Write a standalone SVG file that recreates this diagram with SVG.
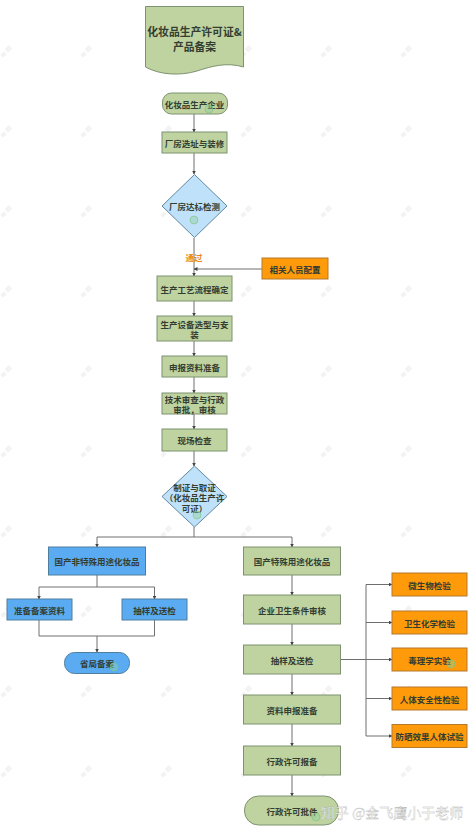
<svg xmlns="http://www.w3.org/2000/svg" width="474" height="832" viewBox="0 0 474 832">
<style>
text{font-family:"Noto Sans CJK SC","Noto Sans",sans-serif;font-weight:700;font-size:8.5px;fill:#333d30;text-anchor:middle;dominant-baseline:central}
.g{fill:#bfd3a0;stroke:#7d9270;stroke-width:1}
.b{fill:#5aabf2;stroke:#4f7f9e;stroke-width:1}
.o{fill:#ff9a0a;stroke:#b5792c;stroke-width:1}
.d{fill:#bfe1fa;stroke:#5f8aa0;stroke-width:1}
.l{fill:none;stroke:#6e6e6e;stroke-width:1}
.t{fill:none;stroke:#707070;stroke-width:1}
.c{fill:#8fd0a0;fill-opacity:.45;stroke:#7cc47c;stroke-opacity:.6;stroke-width:1}
</style>
<defs>
<marker id="a" markerWidth="4" markerHeight="4" refX="3.5" refY="2" orient="auto" markerUnits="userSpaceOnUse"><path d="M0 0L4 2L0 4Z" fill="#444"/></marker>
<pattern id="wm" x="0" y="40" width="80" height="80" patternUnits="userSpaceOnUse">
<g transform="rotate(-45 6 12)" fill="#f3f3f3"><rect x="0" y="10" width="5" height="4"/><rect x="7" y="9" width="6" height="5"/></g>
</pattern>
</defs>
<rect width="474" height="832" fill="#fff"/>
<rect width="474" height="832" fill="url(#wm)"/>
<g id="connectors" class="conn">
<path class="l" d="M194 114V132" marker-end="url(#a)"/>
<path class="l" d="M194 153V174" marker-end="url(#a)"/>
<path class="l" d="M194 238V276" marker-end="url(#a)"/>
<path class="l" d="M262 269H194" marker-end="url(#a)"/>
<path class="l" d="M194 301V316" marker-end="url(#a)"/>
<path class="l" d="M194 341V356" marker-end="url(#a)"/>
<path class="l" d="M194 377V393" marker-end="url(#a)"/>
<path class="l" d="M194 414V429" marker-end="url(#a)"/>
<path class="l" d="M194 451V466" marker-end="url(#a)"/>
<path class="t" d="M194 527V537"/>
<path class="t" d="M194 537H97V547" marker-end="url(#a)"/>
<path class="t" d="M194 537H292V547" marker-end="url(#a)"/>
<path class="t" d="M97 575V587"/>
<path class="t" d="M97 587H39V599" marker-end="url(#a)"/>
<path class="t" d="M97 587H154.500V599" marker-end="url(#a)"/>
<path class="t" d="M39 620V636H154.500V620"/>
<path class="t" d="M97 636V652" marker-end="url(#a)"/>
<path class="l" d="M292 575V595" marker-end="url(#a)"/>
<path class="l" d="M292 624V645" marker-end="url(#a)"/>
<path class="l" d="M292 674V695" marker-end="url(#a)"/>
<path class="l" d="M292 724V746" marker-end="url(#a)"/>
<path class="l" d="M292 775V796" marker-end="url(#a)"/>
<path class="l" d="M341 659.500H392" marker-end="url(#a)"/>
<path class="l" d="M366 584.500H392" marker-end="url(#a)"/>
<path class="l" d="M366 622.500H392" marker-end="url(#a)"/>
<path class="l" d="M366 698.500H392" marker-end="url(#a)"/>
<path class="l" d="M366 736H392" marker-end="url(#a)"/>
<path class="l" d="M366 584.500V736"/>
</g>
<g id="n-title"><path class="g" d="M145.500 6.500H243.500V67C227 62 212 66 197 71C180 76 160 75 145.500 67Z"/><text x="194.500" y="31" style="font-size:10.800px">化妆品生产许可证&amp;</text><text x="194.500" y="45.500" style="font-size:10.800px">产品备案</text></g>
<g id="n-company"><rect class="g" x="162.500" y="93" width="65" height="21" rx="9"/><text x="194.500" y="103.500">化妆品生产企业</text></g>
<g id="n-site"><rect class="g" x="162" y="132" width="65" height="21"/><text x="194.500" y="142.500">厂房选址与装修</text></g>
<g id="n-test"><path class="d" d="M194.500 174.500L227 206L194.500 237.500L162 206Z"/><text x="194.500" y="206">厂房达标检测</text></g>
<g id="l-pass"><text x="194" y="257" style="fill:#e98a20">通过</text></g>
<g id="n-staff"><rect class="o" x="262" y="258" width="66" height="21"/><text x="295" y="268.500">相关人员配置</text></g>
<g id="n-process"><rect class="g" x="157" y="276" width="75" height="25"/><text x="194.500" y="288.500">生产工艺流程确定</text></g>
<g id="n-equip"><rect class="g" x="157" y="316" width="75" height="25"/><text x="194.500" y="323.500">生产设备选型与安</text><text x="194.500" y="334">装</text></g>
<g id="n-docs"><rect class="g" x="162" y="356" width="65" height="21"/><text x="194.500" y="366.500">申报资料准备</text></g>
<g id="n-review"><rect class="g" x="162" y="393" width="65" height="21"/><text x="194.500" y="398.500">技术审查与行政</text><text x="194.500" y="409">审批，审核</text></g>
<g id="n-inspect"><rect class="g" x="162" y="429" width="65" height="22"/><text x="194.500" y="440">现场检查</text></g>
<g id="n-license"><path class="d" d="M194.500 466L227 496.500L194.500 527L162 496.500Z"/><text x="194.500" y="486.500">制证与取证</text><text x="194.500" y="497">（化妆品生产许</text><text x="194.500" y="507.500">可证）</text></g>
<g id="n-nonspecial"><rect class="b" x="48.500" y="547" width="97" height="28"/><text x="97" y="561">国产非特殊用途化妆品</text></g>
<g id="n-special"><rect class="g" x="243.500" y="547" width="97" height="28"/><text x="292" y="561">国产特殊用途化妆品</text></g>
<g id="n-prep"><rect class="b" x="7" y="599" width="65" height="21"/><text x="39.500" y="609.500">准备备案资料</text></g>
<g id="n-sample1"><rect class="b" x="122" y="599" width="65" height="21"/><text x="154.500" y="609.500">抽样及送检</text></g>
<g id="n-filing"><rect class="b" x="64.500" y="652.500" width="65" height="21" rx="10"/><text x="97" y="663">省局备案</text></g>
<g id="n-hygiene"><rect class="g" x="243.500" y="595" width="97" height="29"/><text x="292" y="609.500">企业卫生条件审核</text></g>
<g id="n-sample2"><rect class="g" x="243.500" y="645" width="97" height="29"/><text x="292" y="659.500">抽样及送检</text></g>
<g id="n-dossier"><rect class="g" x="243.500" y="695" width="97" height="29"/><text x="292" y="709.500">资料申报准备</text></g>
<g id="n-permit"><rect class="g" x="243.500" y="746" width="97" height="29"/><text x="292" y="760.500">行政许可报备</text></g>
<g id="n-approval"><rect class="g" x="244.500" y="796" width="94" height="29" rx="14"/><text x="292" y="810.500">行政许可批件</text></g>
<g id="n-micro"><rect class="o" x="392" y="573" width="75" height="23"/><text x="429.500" y="584.500">微生物检验</text></g>
<g id="n-chem"><rect class="o" x="392" y="611" width="75" height="23"/><text x="429.500" y="622.500">卫生化学检验</text></g>
<g id="n-tox"><rect class="o" x="392" y="648" width="75" height="23"/><text x="429.500" y="659.500">毒理学实验</text></g>
<g id="n-safety"><rect class="o" x="392" y="687" width="75" height="23"/><text x="429.500" y="698.500">人体安全性检验</text></g>
<g id="n-sun"><rect class="o" x="392" y="724.500" width="75" height="23"/><text x="429.500" y="736">防晒效果人体试验</text></g>
<g id="badges">
<circle class="c" cx="209" cy="109" r="4"/><circle class="c" cx="194" cy="220" r="4"/><circle class="c" cx="197" cy="515" r="4"/><circle class="c" cx="114" cy="667" r="4"/><circle class="c" cx="451" cy="664" r="4"/><circle class="c" cx="316" cy="817" r="4"/>
</g>
<g id="watermark"><text x="392" y="812" style="font-size:14px;font-weight:400;fill:#fff;fill-opacity:.8;stroke:#a0a0a0;stroke-opacity:.8;stroke-width:.35">知乎 @金飞鹰小于老师</text></g>
</svg>
